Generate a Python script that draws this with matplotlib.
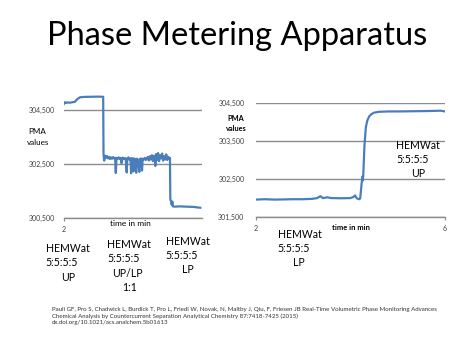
import matplotlib
matplotlib.use("Agg")
import matplotlib.pyplot as plt
from matplotlib.ticker import FuncFormatter

plt.rcParams['font.family'] = ['Lato', 'DejaVu Sans']

# ---- data: left chart (time in min, PMA value) ----
left_t = [2.00, 2.03, 2.06, 2.10, 2.15, 2.20, 2.26, 2.32, 2.37, 2.42, 2.47, 2.60, 2.80, 3.00, 3.10, 3.15,
          3.16, 3.18, 3.20, 3.23, 3.26, 3.29, 3.32, 3.35, 3.38, 3.41, 3.44, 3.47, 3.50, 3.52, 3.54,
          3.57, 3.60, 3.63, 3.66, 3.69, 3.72, 3.75, 3.78, 3.81, 3.84, 3.86, 3.89, 3.92, 3.95, 3.97,
          3.99, 4.02, 4.04, 4.06, 4.09, 4.12, 4.14, 4.17, 4.21, 4.23, 4.26, 4.29, 4.31, 4.34, 4.37,
          4.40, 4.43, 4.46, 4.49, 4.52, 4.55, 4.58, 4.61, 4.64, 4.67, 4.68, 4.70, 4.73, 4.76, 4.79,
          4.82, 4.85, 4.88, 4.91, 4.94, 4.97, 5.00, 5.03, 5.06, 5.09, 5.11, 5.12, 5.14, 5.16, 5.18,
          5.20, 5.25, 5.40, 5.60, 5.80, 6.00]
left_v = [304730, 304790, 304760, 304780, 304770, 304775, 304790, 304800, 304880, 304930, 304970, 304985, 304990, 304995, 304990, 304990,
          302850, 302620, 302800, 302730, 302790, 302700, 302760, 302680, 302740, 302690, 302750, 302700, 302720, 302160, 302720,
          302680, 302740, 302690, 302720, 302520, 302730, 302680, 302710, 302700, 302180, 302700, 302740, 302660, 302700, 302150,
          302710, 302690, 302220, 302700, 302660, 302170, 302690, 302650, 302200, 302680, 302700, 302250, 302690, 302660, 302720,
          302640, 302700, 302760, 302620, 302780, 302660, 302820, 302600, 302800, 302700, 302420, 302860, 302640, 302900, 302600,
          302820, 302700, 302880, 302620, 302780, 302660, 302850, 302640, 302760, 302700, 302720, 301200, 301100, 300980, 301100,
          300920, 300910, 300920, 300910, 300900, 300870]

# ---- data: right chart ----
right_t = [2.00, 2.20, 2.40, 2.60, 2.80, 3.00, 3.20, 3.30, 3.37, 3.42, 3.52, 3.60, 3.80, 4.00, 4.07, 4.10,
           4.14, 4.19, 4.21, 4.24, 4.26, 4.265, 4.275, 4.30, 4.33, 4.36, 4.40, 4.45, 4.50, 4.60, 4.80, 5.00,
           5.30, 5.60, 5.80, 5.90, 6.00]
right_v = [301950, 301960, 301950, 301955, 301960, 301960, 301970, 301990, 302040, 301990, 302010, 301990, 301985, 301990, 302020, 302060,
           301980, 301960, 301980, 302370, 302560, 302450, 302600, 303380, 303860, 304030, 304140, 304200, 304237, 304260, 304270, 304270,
           304275, 304280, 304285, 304290, 304270]

left_yticks = [300500, 302500, 304500]
right_yticks = [301500, 302500, 303500, 304500]
left_xticks = [2]
right_xticks = [2, 6]

W, H = 474, 355
fig = plt.figure(figsize=(W / 100, H / 100), dpi=100)
fig.patch.set_facecolor('white')

def px(x, y):
    return x / W, 1 - y / H

line_color = '#4a7ebb'
grid_color = '#8c8c8c'
fmt = FuncFormatter(lambda v, p: f"{int(v):,}")

def style(ax, yticks, xlim, ylim, xticks, ypad):
    ax.set_xlim(*xlim)
    ax.set_ylim(*ylim)
    ax.set_yticks(yticks)
    ax.yaxis.set_major_formatter(fmt)
    ax.set_xticks(xticks)
    ax.set_xticklabels([str(t) for t in xticks])
    for s in ['top', 'right', 'left']:
        ax.spines[s].set_visible(False)
    ax.spines['bottom'].set_color(grid_color)
    ax.spines['bottom'].set_linewidth(1)
    ax.grid(axis='y', color=grid_color, linewidth=1)
    ax.set_axisbelow(True)
    ax.tick_params(axis='y', length=0, labelsize=5, colors='#404040', pad=ypad)
    ax.tick_params(axis='x', length=2, color=grid_color, labelsize=5, labelcolor='#404040', pad=4)
    ax.patch.set_alpha(0)

# left chart
x0, y0 = px(64, 217.7)
x1, y1 = px(202, 93.8)
axL = fig.add_axes([x0, y0, x1 - x0, y1 - y0])
axL.plot(left_t, left_v, color=line_color, linewidth=1.6)
style(axL, left_yticks, (2, 6.05), (300500, 305100), left_xticks, 6.5)

# right chart
x0, y0 = px(255.5, 216.7)
x1, y1 = px(445, 102.7)
axR = fig.add_axes([x0, y0, x1 - x0, y1 - y0])
axR.plot(right_t, right_v, color=line_color, linewidth=1.6)
style(axR, right_yticks, (2, 6), (301500, 304500), right_xticks, 8)

def ftext(x, y, s, **kw):
    fx, fy = px(x, y)
    fig.text(fx, fy, s, **kw)

# title
ftext(237.5, 45, "Phase Metering Apparatus", fontsize=23.5, ha='center', va='baseline', color='black')

# axis labels
ftext(37.5, 131.7, "PMA", fontsize=5.8, ha='center', va='center', color='black')
ftext(38, 142.7, "values", fontsize=5.8, ha='center', va='center', color='black')
ftext(130, 223.3, "time in min", fontsize=6, ha='center', va='center', color='black')
ftext(236, 118.3, "PMA", fontsize=5.3, ha='center', va='center', color='black', fontweight='bold')
ftext(236, 128.3, "values", fontsize=5.3, ha='center', va='center', color='black', fontweight='bold')
ftext(351, 227, "time in min", fontsize=5.5, ha='center', va='center', color='black', fontweight='bold')

# annotations: (x of first line, cap top, lines with x offsets)
def annotate(x, top, lines):
    step = 14.2
    for i, (s, dx) in enumerate(lines):
        ftext(x + dx, top + i * step, s, fontsize=7.6, ha='left', va='top', color='black')

annotate(45.7, 243.3, [("HEMWat", 0), ("5:5:5:5", 0), ("UP", 15)])
annotate(107.3, 239.3, [("HEMWat", 0), ("5:5:5:5", 0), ("UP/LP", 5), ("1:1", 14.4)])
annotate(165.7, 235.7, [("HEMWat", 0), ("5:5:5:5", 0), ("LP", 16)])
annotate(277.7, 228.5, [("HEMWat", 0), ("5:5:5:5", 0), ("LP", 15.6)])
annotate(396, 140, [("HEMWat", 0), ("5:5:5:5", 0), ("UP", 15)])

# citation
ftext(52, 307.5, "Pauli GF, Pro S, Chadwick L, Burdick T, Pro L, Friedl W, Novak, N, Maltby J, Qiu, F, Friesen JB Real-Time Volumetric Phase Monitoring Advances\n"
                 "Chemical Analysis by Countercurrent Separation Analytical Chemistry 87:7418-7425 (2015)\n"
                 "dx.doi.org/10.1021/acs.analchem.5b01613",
      fontsize=4.45, ha='left', va='top', color='#333333', linespacing=1.29)

fig.savefig("out.png", dpi=100)
